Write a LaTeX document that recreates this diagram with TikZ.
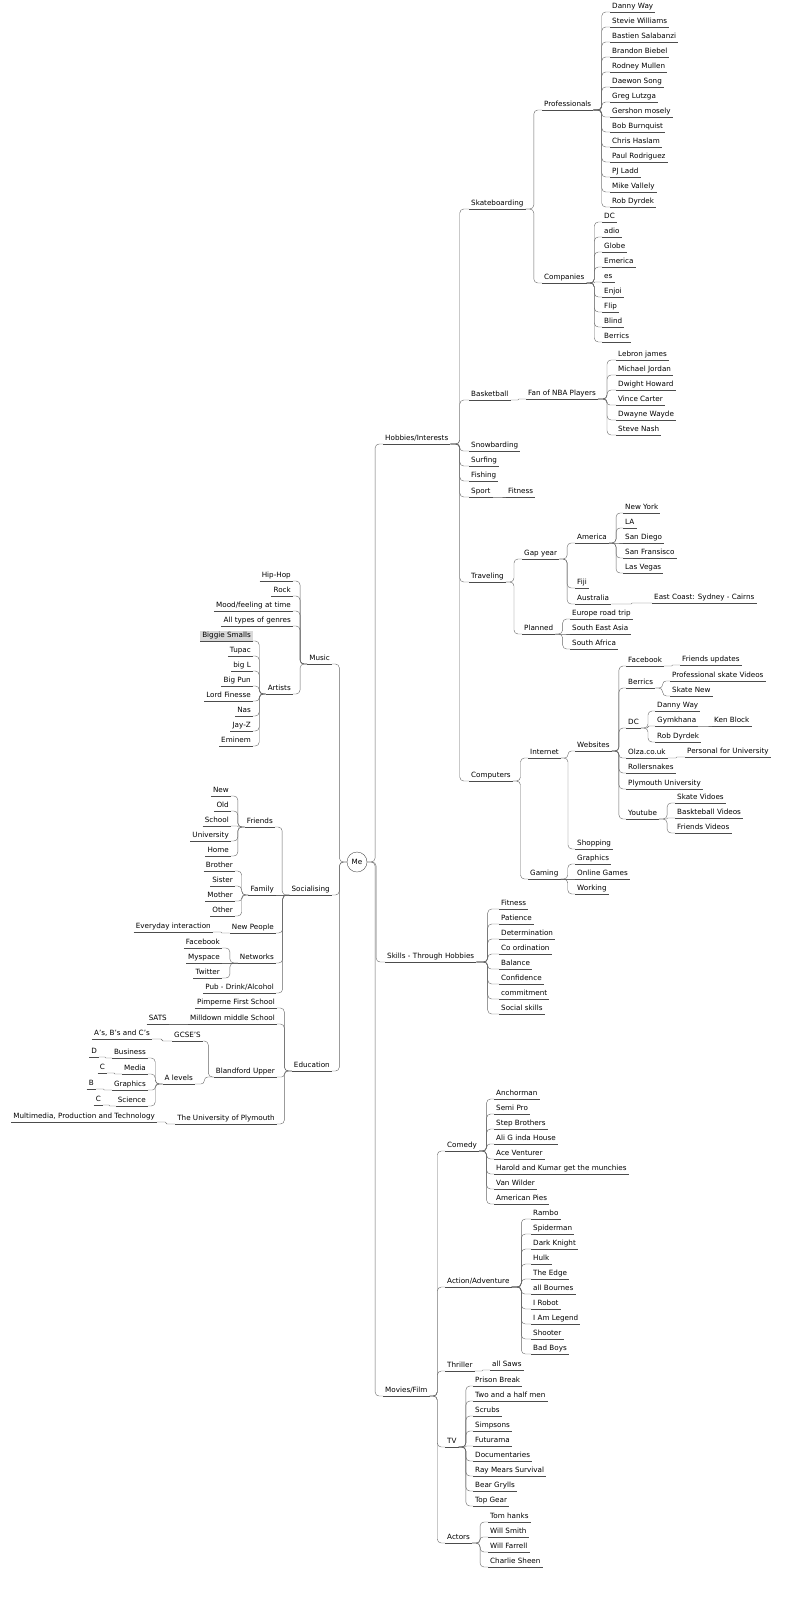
\documentclass[tikz,border=0pt]{standalone}
\usepackage{fontspec}
\setmainfont{DejaVu Sans}
\usetikzlibrary{calc}
\tikzset{
 lb/.style={inner xsep=2pt,inner ysep=1.5pt,text height=5.6pt,text depth=1.6pt,font=\fontsize{7.2}{8}\selectfont,
   append after command={(\tikzlastnode.south west) edge[draw=black!70,line width=0.4pt] (\tikzlastnode.south east)}},
 rt/.style={lb,anchor=south west},
 lt/.style={lb,anchor=south east},
 con/.style={draw=black!60,line width=0.4pt}
}
\newcommand\R[4]{\node[rt] (#1) at ({#2},{#3+6}) {#4};}
\newcommand\Lf[4]{\node[lt] (#1) at ({#2},{#3+6}) {#4};}
\newcommand\cnR[2]{\draw[con] let \p1=(#1),\p2=(#2.south west),\n2={min(4pt,abs(\y1-\y2)/2.05)} in [rounded corners=\n2] (\p1) -- ({(\x1+\x2)/2},\y1) -- ({(\x1+\x2)/2},\y2) -- (\p2);}
\newcommand\cnL[2]{\draw[con] let \p1=(#1),\p2=(#2.south east),\n2={min(4pt,abs(\y1-\y2)/2.05)} in [rounded corners=\n2] (\p1) -- ({(\x1+\x2)/2},\y1) -- ({(\x1+\x2)/2},\y2) -- (\p2);}
\newcommand\RR[2]{\cnR{#1.south east}{#2}}
\newcommand\LL[2]{\cnL{#1.south west}{#2}}
\newcommand\lst[5]{\foreach \t [count=\i] in {#5} {\node[rt] (#1\i) at ({#2},{#3+6+15*(\i-1)}) {\t}; \RR{#4}{#1\i}}}
\newcommand\lstL[5]{\foreach \t [count=\i] in {#5} {\node[lt] (#1\i) at ({#2},{#3+6+15*(\i-1)}) {\t}; \LL{#4}{#1\i}}}
\begin{document}
\begin{tikzpicture}[x=1pt,y=-1pt]
\useasboundingbox (0,0) rectangle (790,1600);
\node[draw=black!70,circle,inner sep=1pt,minimum size=20pt,font=\fontsize{7.2}{8}\selectfont] (me) at (357,862) {Me};
\coordinate (meR) at (me.east);
\coordinate (meL) at (me.west);
% ---------- right side
\R{hob}{383}{438}{Hobbies/Interests} \cnR{meR}{hob}
\R{skate}{469}{203}{Skateboarding} \RR{hob}{skate}
\R{pros}{542}{104}{Professionals} \RR{skate}{pros}
\lst{pr}{610}{6}{pros}{Danny Way,Stevie Williams,Bastien Salabanzi,Brandon Biebel,Rodney Mullen,Daewon Song,Greg Lutzga,Gershon mosely,Bob Burnquist,Chris Haslam,Paul Rodriguez,PJ Ladd,Mike Vallely,Rob Dyrdek}
\R{cos}{542}{277}{Companies} \RR{skate}{cos}
\lst{co}{602}{216}{cos}{DC,adio,Globe,Emerica,es,Enjoi,Flip,Blind,Berrics}
\R{bask}{469}{394}{Basketball} \RR{hob}{bask}
\R{fan}{526}{393}{Fan of NBA Players} \RR{bask}{fan}
\lst{nba}{616}{354}{fan}{Lebron james,Michael Jordan,Dwight Howard,Vince Carter,Dwayne Wayde,Steve Nash}
\R{snow}{469}{445}{Snowbarding} \RR{hob}{snow}
\R{surf}{469}{460}{Surfing} \RR{hob}{surf}
\R{fish}{469}{475}{Fishing} \RR{hob}{fish}
\R{sport}{469}{491}{Sport} \RR{hob}{sport}
\R{fit}{506}{491}{Fitness} \RR{sport}{fit}
\R{trav}{469}{576}{Traveling} \RR{hob}{trav}
\R{gap}{522}{553}{Gap year} \RR{trav}{gap}
\R{am}{575}{537}{America} \RR{gap}{am}
\lst{us}{623}{507}{am}{New York,LA,San Diego,San Fransisco,Las Vegas}
\R{fiji}{575}{582}{Fiji} \RR{gap}{fiji}
\R{aus}{575}{598}{Australia} \RR{gap}{aus}
\R{ec}{652}{597}{East Coast: Sydney - Cairns} \RR{aus}{ec}
\R{plan}{522}{628}{Planned} \RR{trav}{plan}
\lst{pl}{570}{613}{plan}{Europe road trip,South East Asia,South Africa}
\R{comp}{469}{775}{Computers} \RR{hob}{comp}
\R{inet}{528}{752}{Internet} \RR{comp}{inet}
\R{web}{575}{745}{Websites} \RR{inet}{web}
\R{fb}{626}{660}{Facebook} \RR{web}{fb}
\R{fbu}{680}{659}{Friends updates} \RR{fb}{fbu}
\R{ber}{626}{682}{Berrics} \RR{web}{ber}
\R{psv}{670}{675}{Professional skate Videos} \RR{ber}{psv}
\R{skn}{670}{690}{Skate New} \RR{ber}{skn}
\R{dc}{626}{722}{DC} \RR{web}{dc}
\R{dw}{655}{705}{Danny Way} \RR{dc}{dw}
\R{gym}{655}{720}{Gymkhana} \RR{dc}{gym}
\R{kb}{712}{720}{Ken Block} \RR{gym}{kb}
\R{rd}{655}{736}{Rob Dyrdek} \RR{dc}{rd}
\R{olza}{626}{752}{Olza.co.uk} \RR{web}{olza}
\R{pfu}{685}{751}{Personal for University} \RR{olza}{pfu}
\R{rol}{626}{767}{Rollersnakes} \RR{web}{rol}
\R{plu}{626}{783}{Plymouth University} \RR{web}{plu}
\R{yt}{626}{813}{Youtube} \RR{web}{yt}
\lst{ytv}{675}{797}{yt}{Skate Vidoes,Baskteball Videos,Friends Videos}
\R{shop}{575}{843}{Shopping} \RR{inet}{shop}
\R{gam}{528}{873}{Gaming} \RR{comp}{gam}
\lst{ga}{575}{858}{gam}{Graphics,Online Games,Working}
\R{skl}{385}{956}{Skills - Through Hobbies} \cnR{meR}{skl}
\lst{sk}{499}{903}{skl}{Fitness,Patience,Determination,Co ordination,Balance,Confidence,commitment,Social skills}
\R{mov}{383}{1390}{Movies/Film} \cnR{meR}{mov}
\R{com}{445}{1145}{Comedy} \RR{mov}{com}
\lst{cm}{494}{1093}{com}{Anchorman,Semi Pro,Step Brothers,Ali G inda House,Ace Venturer,Harold and Kumar get the munchies,Van Wilder,American Pies}
\R{act}{445}{1281}{Action/Adventure} \RR{mov}{act}
\lst{ac}{531}{1213}{act}{Rambo,Spiderman,Dark Knight,Hulk,The Edge,all Bournes,I Robot,I Am Legend,Shooter,Bad Boys}
\R{thr}{445}{1365}{Thriller} \RR{mov}{thr}
\R{saw}{490}{1364}{all Saws} \RR{thr}{saw}
\R{tv}{445}{1441}{TV} \RR{mov}{tv}
\lst{tvs}{473}{1380}{tv}{Prison Break,Two and a half men,Scrubs,Simpsons,Futurama,Documentaries,Ray Mears Survival,Bear Grylls,Top Gear}
\R{acto}{445}{1537}{Actors} \RR{mov}{acto}
\lst{at}{488}{1516}{acto}{Tom hanks,Will Smith,Will Farrell,Charlie Sheen}
% ---------- left side
\Lf{mus}{332}{658}{Music} \cnL{meL}{mus}
\lstL{mu}{293}{575}{mus}{Hip-Hop,Rock,Mood/feeling at time,All types of genres}
\Lf{art}{293}{688}{Artists} \LL{mus}{art}
\node[lt,fill=black!15] (ar1) at (253,641) {Biggie Smalls}; \LL{art}{ar1}
\lstL{arx}{253}{650}{art}{Tupac,big L,Big Pun,Lord Finesse,Nas,Jay-Z,Eminem}
\Lf{soc}{332}{889}{Socialising} \cnL{meL}{soc}
\Lf{fr}{275}{821}{Friends} \LL{soc}{fr}
\lstL{fri}{231}{790}{fr}{New,Old,School,University,Home}
\Lf{fam}{276}{889}{Family} \LL{soc}{fam}
\lstL{fa}{235}{865}{fam}{Brother,Sister,Mother,Other}
\Lf{np}{276}{927}{New People} \LL{soc}{np}
\Lf{ev}{213}{926}{Everyday interaction} \LL{np}{ev}
\Lf{net}{276}{957}{Networks} \LL{soc}{net}
\lstL{nw}{222}{942}{net}{Facebook,Myspace,Twitter}
\Lf{pub}{276}{987}{Pub - Drink/Alcohol} \LL{soc}{pub}
\Lf{edu}{332}{1065}{Education} \cnL{meL}{edu}
\Lf{pim}{277}{1002}{Pimperne First School} \LL{edu}{pim}
\Lf{mil}{277}{1018}{Milldown middle School} \LL{edu}{mil}
\Lf{sats}{169}{1018}{SATS} \LL{mil}{sats}
\Lf{bla}{277}{1071}{Blandford Upper} \LL{edu}{bla}
\Lf{gcse}{203}{1035}{GCSE'S} \LL{bla}{gcse}
\Lf{abc}{152}{1033}{A's, B's and C's} \LL{gcse}{abc}
\Lf{alv}{195}{1078}{A levels} \LL{bla}{alv}
\Lf{bus}{148}{1052}{Business} \LL{alv}{bus}
\Lf{gD}{99}{1051}{D} \LL{bus}{gD}
\Lf{med}{148}{1068}{Media} \LL{alv}{med}
\Lf{gC}{107}{1067}{C} \LL{med}{gC}
\Lf{gra}{148}{1084}{Graphics} \LL{alv}{gra}
\Lf{gB}{96}{1083}{B} \LL{gra}{gB}
\Lf{sci}{148}{1100}{Science} \LL{alv}{sci}
\Lf{gC2}{103}{1099}{C} \LL{sci}{gC2}
\Lf{uni}{277}{1118}{The University of Plymouth} \LL{edu}{uni}
\Lf{mpt}{157}{1116}{Multimedia, Production and Technology} \LL{uni}{mpt}
\end{tikzpicture}
\end{document}
